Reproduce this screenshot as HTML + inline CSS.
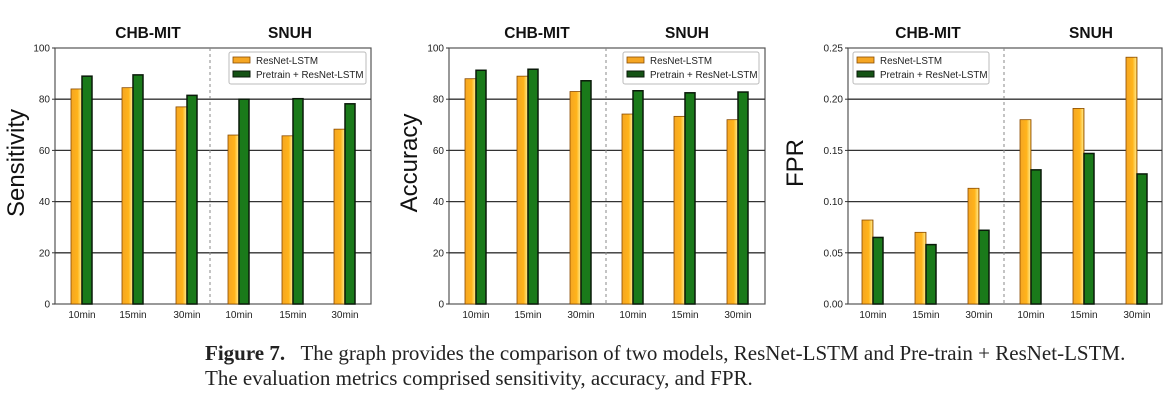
<!DOCTYPE html>
<html><head><meta charset="utf-8"><style>
body{margin:0;background:#fff;width:1176px;height:405px;overflow:hidden}
svg{position:absolute;left:0;top:0}
.cap{position:absolute;left:205px;font-family:"Liberation Serif",serif;font-size:21px;color:#222;white-space:nowrap}
</style></head><body>
<svg width="1176" height="405" xmlns="http://www.w3.org/2000/svg" font-family="Liberation Sans, DejaVu Sans, sans-serif">
<defs>
<linearGradient id="o" x1="0" x2="1"><stop offset="0" stop-color="#f5a623"/><stop offset="0.6" stop-color="#ffb31a"/><stop offset="0.9" stop-color="#ffe27a"/><stop offset="1" stop-color="#e08a00"/></linearGradient>
</defs>
<g id="charts"></g>
</svg>
<div class="cap" style="top:341px"><b>Figure 7.</b>&nbsp;&nbsp; The graph provides the comparison of two models, ResNet-LSTM and Pre-train + ResNet-LSTM.</div>
<div class="cap" style="top:366px">The evaluation metrics comprised sensitivity, accuracy, and FPR.</div>
<script>
const ns="http://www.w3.org/2000/svg",G=document.getElementById('charts');
function el(t,a,txt){const e=document.createElementNS(ns,t);for(const k in a)e.setAttribute(k,a[k]);if(txt!=null)e.textContent=txt;G.appendChild(e);return e;}
const charts=[
{L:55,R:371,D:210,max:100,ticks:[0,20,40,60,80,100],fmt:v=>v,cx:[82,133,187,239,293,345],o:[84,84.5,77,66,65.7,68.3],g:[89,89.5,81.5,80,80.2,78.2],lab:"Sensitivity",lx:24,leg:[229,366],t1:148,t2:290},
{L:449,R:765,D:606,max:100,ticks:[0,20,40,60,80,100],fmt:v=>v,cx:[476,528,581,633,685,738],o:[88,89,83,74.2,73.3,72],g:[91.3,91.7,87.2,83.3,82.5,82.8],lab:"Accuracy",lx:417,leg:[623,759],t1:537,t2:687},
{L:848,R:1162,D:1004,max:0.25,ticks:[0,.05,.1,.15,.2,.25],fmt:v=>v.toFixed(2),cx:[873,926,979,1031,1084,1137],o:[.082,.070,.113,.180,.191,.241],g:[.065,.058,.072,.131,.147,.127],lab:"FPR",lx:803,leg:[853,989],t1:928,t2:1091}
];
const T=48,B=304;
for(const c of charts){
 const y=v=>B-v/c.max*(B-T);
 el('rect',{x:c.L,y:T,width:c.R-c.L,height:B-T,fill:'#fff',stroke:'#555','stroke-width':1.2});
 for(const t of c.ticks){const yy=y(t);
  if(t>0&&t<c.max)el('line',{x1:c.L,x2:c.R,y1:yy,y2:yy,stroke:'#333','stroke-width':1.3});
  el('line',{x1:c.L-3,x2:c.L,y1:yy,y2:yy,stroke:'#333'});
  el('text',{x:c.L-5,y:yy+3.5,'font-size':10,'text-anchor':'end',fill:'#222'},c.fmt(t));}
 el('line',{x1:c.D,x2:c.D,y1:T,y2:B,stroke:'#888','stroke-dasharray':'3,3'});
 c.cx.forEach((x,i)=>{
  el('rect',{x:x-11,y:y(c.o[i]),width:11,height:B-y(c.o[i]),fill:'url(#o)',stroke:'#8a4b00','stroke-width':0.8});
  el('rect',{x:x,y:y(c.g[i]),width:10,height:B-y(c.g[i]),fill:'#1a7a1a',stroke:'#0a1a0a','stroke-width':1.5});
  el('text',{x:x,y:B+14,'font-size':10,'text-anchor':'middle',fill:'#222'},['10min','15min','30min'][i%3]);
 });
 el('text',{x:c.t1,y:38,'font-size':15.5,'font-weight':'bold','text-anchor':'middle',fill:'#111'},'CHB-MIT');
 el('text',{x:c.t2,y:38,'font-size':15.5,'font-weight':'bold','text-anchor':'middle',fill:'#111'},'SNUH');
 el('text',{x:c.lx,y:163,'font-size':24,'text-anchor':'middle',fill:'#111',transform:`rotate(-90 ${c.lx} 163)`},c.lab);
 const [a,b]=c.leg;
 el('rect',{x:a,y:52,width:b-a,height:32,fill:'#fff',stroke:'#bbb','rx':2});
 el('rect',{x:a+4,y:57,width:17,height:6,fill:'#f5a623',stroke:'#8a4b00','stroke-width':0.8});
 el('rect',{x:a+4,y:71,width:17,height:6,fill:'#145214',stroke:'#0a1a0a'});
 el('text',{x:a+27,y:64,'font-size':9.8,fill:'#222'},'ResNet-LSTM');
 el('text',{x:a+27,y:78,'font-size':9.8,fill:'#222'},'Pretrain + ResNet-LSTM');
}
</script>
</body></html>
